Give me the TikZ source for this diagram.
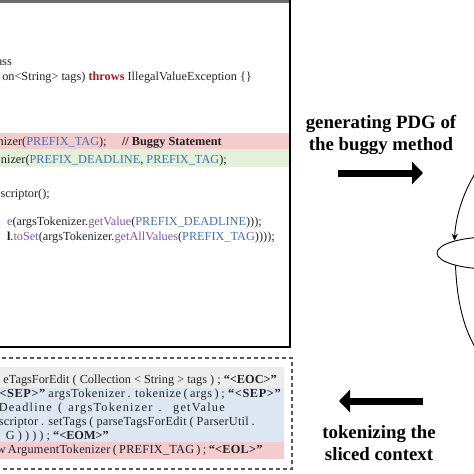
\documentclass[tikz,border=0pt]{standalone}
\usepackage{fontspec}
\setmainfont{Liberation Serif}
\usepackage{xcolor}
\usepackage{tikz}
\usetikzlibrary{positioning,arrows.meta,shapes.geometric}

\definecolor{kwred}{RGB}{165,28,38}
\definecolor{cstblue}{RGB}{70,112,178}
\definecolor{mthpurple}{RGB}{128,82,172}
\definecolor{codeblack}{RGB}{35,35,35}
\definecolor{bandred}{RGB}{244,204,205}
\definecolor{bandgreen}{RGB}{227,240,218}
\definecolor{bandgray}{RGB}{237,237,237}
\definecolor{bandblue}{RGB}{221,231,243}
\definecolor{headgray}{RGB}{110,110,110}

\newcommand{\cst}[1]{\textcolor{cstblue}{#1}}
\newcommand{\mth}[1]{\textcolor{mthpurple}{#1}}
% a token line spread over a given width
\newcommand{\spreadline}[3]{\hbox to #1{\addfontfeatures{LetterSpace=#2}#3}}

\begin{document}
\begin{tikzpicture}[x=1pt,y=-1pt,
  code/.style={anchor=base east,inner sep=0pt,text=codeblack,font=\fontsize{12.3}{14.6}\selectfont},
  steplabel/.style={anchor=base,inner sep=0pt,font=\fontsize{18.8}{22}\selectfont\bfseries},
  bigarrow/.style={line width=7pt,-{Triangle[length=11pt,width=22pt]}},
  pdgedge/.style={line width=0.9pt}]
\useasboundingbox (0,0) rectangle (474,474);
\clip (0,0) rectangle (474,474);

% buggy method (source code box)
\fill[bandred] (-5,133) rectangle (289,149);
\fill[bandgreen] (-5,149) rectangle (289,167);
\fill[headgray] (-5,-5) rectangle (290,2.5);
\draw[line width=2pt] (-5,-5) rectangle (290,347);

\node[code] (m1) at (12,65) {ass};
\node[code] (m2) at (252,80) {on<String> tags) \textcolor{kwred}{\textbf{throws}} IllegalValueException \{\}};
\node[code] (m3) at (222,145) {nizer(\cst{PREFIX\_TAG});\quad\ \textbf{// Buggy Statement}};
\node[code] (m4) at (227,163) {nizer(\cst{PREFIX\_DEADLINE}, \cst{PREFIX\_TAG});};
\node[code] (m5) at (50,197) {scriptor();};
\node[code] (m6) at (262,225) {\mth{e}(argsTokenizer.\mth{getValue}(\cst{PREFIX\_DEADLINE})));};
\node[code] (m7) at (275,240) {\textbf{l}.\mth{toSet}(argsTokenizer.\mth{getAllValues}(\cst{PREFIX\_TAG}))));};

% sliced context (token box)
\fill[bandgray] (-5,367) rectangle (284,388);
\fill[bandblue] (-5,388) rectangle (284,442);
\fill[bandred] (-5,442) rectangle (284,459);
\draw[headgray!80!black,line width=1.3pt,dash pattern=on 4pt off 3pt] (-5,358) rectangle (292,469);

\node[code] (t1) at (277,383) {eTagsForEdit ( Collection < String > tags ) ; \textbf{“<EOC>”}};
\node[code] (t2) at (275,397) {\spreadline{282pt}{5}{\textbf{“<SEP>”} argsTokenizer . tokenize ( args ) ; \textbf{“<SEP>”}}};
\node[code] (t3) at (225,411) {\spreadline{226pt}{10}{Deadline ( argsTokenizer . getValue}};
\node[code] (t4) at (255,425) {\spreadline{256pt}{2}{scriptor . setTags ( parseTagsForEdit ( ParserUtil .}};
\node[code] (t5) at (109,439) {G ) ) ) ) ; \textbf{“<EOM>”}};
\node[code] (t6) at (263,453) {\spreadline{266pt}{2}{w ArgumentTokenizer ( PREFIX\_TAG ) ; \textbf{“<EOL>”}}};

% step labels and arrows
\node[steplabel] (gen1) at (381,128) {generating PDG of};
\node[steplabel] (gen2) at (381,150) {the buggy method};
\coordinate (genfrom) at (338,173);
\coordinate (gento) at (423,173);
\draw[bigarrow] (genfrom) -- (gento);

\coordinate (tokfrom) at (423,401);
\coordinate (tokto) at (339,401);
\draw[bigarrow] (tokfrom) -- (tokto);
\node[steplabel] (tok1) at (379,438) {tokenizing the};
\node[steplabel] (tok2) at (379,460) {sliced context};

% part of the PDG
\node[draw,ellipse,pdgedge,minimum width=106pt,minimum height=32pt] (stmt) at (490,253) {};
\coordinate (pdgin) at (482,163);
\coordinate (pdgout) at (482,358);
\draw[pdgedge,-{Stealth[length=7pt,width=6pt]}] (pdgin) .. controls (466,185) and (456,212) .. (stmt.161);
\draw[pdgedge] (stmt.200) .. controls (457,300) and (463,332) .. (pdgout);
\end{tikzpicture}
\end{document}
